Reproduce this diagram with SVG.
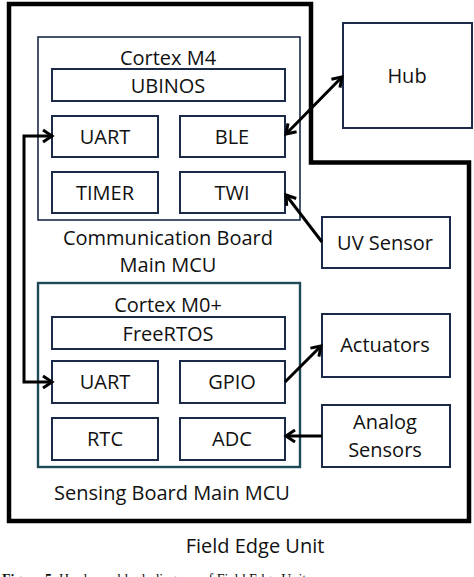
<svg xmlns="http://www.w3.org/2000/svg" width="474" height="577" viewBox="0 0 474 577">
<defs>
<style>
text{font-family:"Open Sans","Noto Sans","DejaVu Sans",sans-serif;font-size:20px;fill:#111;text-anchor:middle}
.box{fill:#fff;stroke:#1b2a48;stroke-width:2}
.board{fill:none;stroke:#1b2a48;stroke-width:1.6}
.board2{fill:none;stroke:#1e4a56;stroke-width:2.4}
.conn{fill:none;stroke:#000;stroke-width:3}
.cap{font-family:"Liberation Serif",serif;font-size:14px;text-anchor:start}
</style>
<marker id="ah" markerUnits="userSpaceOnUse" markerWidth="16" markerHeight="16" refX="13" refY="8" orient="auto-start-reverse" viewBox="0 0 16 16">
<path d="M4,2 L13,8 L4,14" fill="none" stroke="#000" stroke-width="3"/>
</marker>
</defs>
<rect width="474" height="577" fill="#fff"/>
<g id="field-edge-unit">
<path d="M9,4 H311 V162.5 H469 V521 H9 Z" fill="none" stroke="#000" stroke-width="4.5"/>
<text x="255" y="553">Field Edge Unit</text>
</g>
<g id="comm-board">
<rect class="board" x="38" y="37" width="262" height="183"/>
<text x="168" y="65">Cortex M4</text>
<text x="168" y="245">Communication Board</text>
<text x="168" y="272">Main MCU</text>
</g>
<g id="ubinos"><rect class="box" x="52" y="69" width="233" height="32"/><text x="168" y="93">UBINOS</text></g>
<g id="uart1"><rect class="box" x="52" y="116" width="106" height="41"/><text x="105" y="144">UART</text></g>
<g id="ble"><rect class="box" x="180" y="116" width="105" height="41"/><text x="232" y="144">BLE</text></g>
<g id="timer"><rect class="box" x="52" y="172" width="106" height="41"/><text x="105" y="200">TIMER</text></g>
<g id="twi"><rect class="box" x="180" y="172" width="105" height="41"/><text x="232" y="200">TWI</text></g>
<g id="sensing-board">
<rect class="board2" x="38" y="283" width="262" height="184"/>
<text x="168" y="312">Cortex M0+</text>
<text x="172" y="500">Sensing Board Main MCU</text>
</g>
<g id="freertos"><rect class="box" x="52" y="317" width="233" height="32"/><text x="168" y="341">FreeRTOS</text></g>
<g id="uart2"><rect class="box" x="52" y="361" width="106" height="42"/><text x="105" y="389">UART</text></g>
<g id="gpio"><rect class="box" x="180" y="361" width="105" height="42"/><text x="232" y="389">GPIO</text></g>
<g id="rtc"><rect class="box" x="52" y="418" width="106" height="42"/><text x="105" y="446">RTC</text></g>
<g id="adc"><rect class="box" x="180" y="418" width="105" height="42"/><text x="232" y="446">ADC</text></g>
<g id="hub"><rect class="box" x="343" y="23" width="129" height="105"/><text x="407" y="83">Hub</text></g>
<g id="uv-sensor"><rect class="box" x="322" y="217" width="128" height="51"/><text x="385" y="250">UV Sensor</text></g>
<g id="actuators"><rect class="box" x="322" y="314" width="128" height="63"/><text x="385" y="352">Actuators</text></g>
<g id="analog-sensors"><rect class="box" x="322" y="405" width="128" height="62"/><text x="385" y="429">Analog</text><text x="385" y="457">Sensors</text></g>
<g id="connectors">
<path class="conn" d="M52,136 H24 V382 H52" marker-start="url(#ah)" marker-end="url(#ah)"/>
<path class="conn" d="M286,134 L342,77" marker-start="url(#ah)" marker-end="url(#ah)"/>
<path class="conn" d="M322,242 L286,195" marker-end="url(#ah)"/>
<path class="conn" d="M285,382 L321,346" marker-end="url(#ah)"/>
<path class="conn" d="M322,436 L286,436" marker-end="url(#ah)"/>
</g>
<text class="cap" x="2" y="584"><tspan font-weight="bold">Figure 5.</tspan> Hardware block diagram of Field Edge Unit.</text>
</svg>
